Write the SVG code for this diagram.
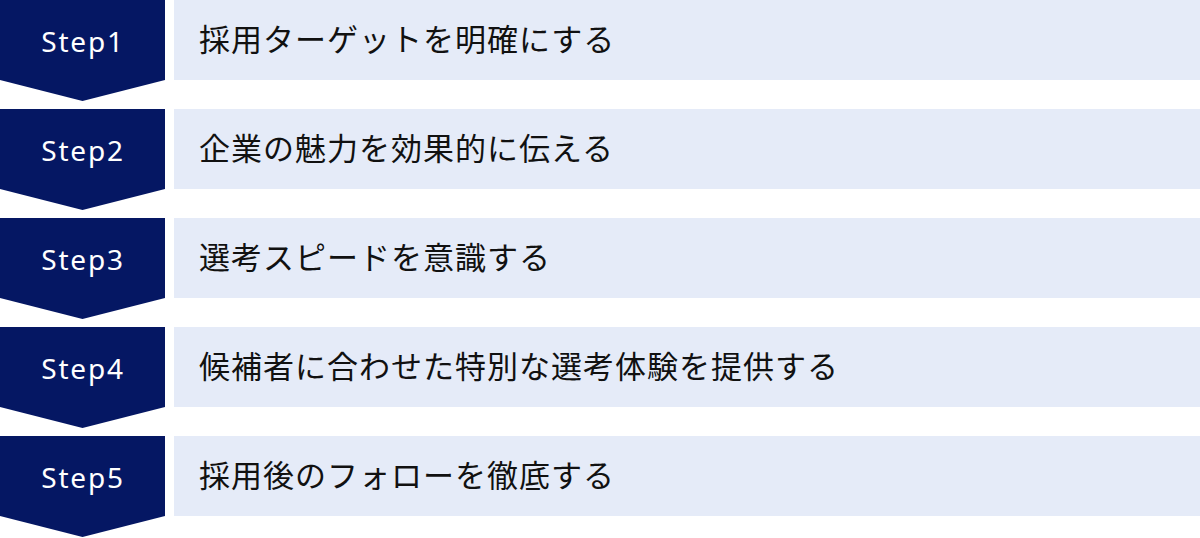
<svg xmlns="http://www.w3.org/2000/svg" width="1200" height="538" viewBox="0 0 1200 538">
<style>
.chev{fill:#051763}
.box{fill:#E5EBF8}
.step{font-family:"Noto Sans","Liberation Sans",sans-serif;font-size:28px;fill:#ffffff;letter-spacing:1.8px;text-anchor:middle}
.lbl{font-family:"Noto Sans CJK JP","Noto Sans",sans-serif;font-size:31px;fill:#111111;letter-spacing:1px}
</style>
<defs>
<path id="chevron" d="M0 0H165V80L82.5 101L0 80Z"/>
</defs>
<g id="connectors"></g>
<g id="step1" transform="translate(0,0)">
<use href="#chevron" class="chev"/>
<rect class="box" x="174" y="0" width="1026" height="80"/>
<text class="step" x="83" y="52">Step1</text>
<text class="lbl" x="199" y="51">採用ターゲットを明確にする</text>
</g>
<g id="step2" transform="translate(0,109)">
<use href="#chevron" class="chev"/>
<rect class="box" x="174" y="0" width="1026" height="80"/>
<text class="step" x="83" y="52">Step2</text>
<text class="lbl" x="199" y="51">企業の魅力を効果的に伝える</text>
</g>
<g id="step3" transform="translate(0,218)">
<use href="#chevron" class="chev"/>
<rect class="box" x="174" y="0" width="1026" height="80"/>
<text class="step" x="83" y="52">Step3</text>
<text class="lbl" x="199" y="51">選考スピードを意識する</text>
</g>
<g id="step4" transform="translate(0,327)">
<use href="#chevron" class="chev"/>
<rect class="box" x="174" y="0" width="1026" height="80"/>
<text class="step" x="83" y="52">Step4</text>
<text class="lbl" x="199" y="51">候補者に合わせた特別な選考体験を提供する</text>
</g>
<g id="step5" transform="translate(0,436)">
<use href="#chevron" class="chev"/>
<rect class="box" x="174" y="0" width="1026" height="80"/>
<text class="step" x="83" y="52">Step5</text>
<text class="lbl" x="199" y="51">採用後のフォローを徹底する</text>
</g>
</svg>
